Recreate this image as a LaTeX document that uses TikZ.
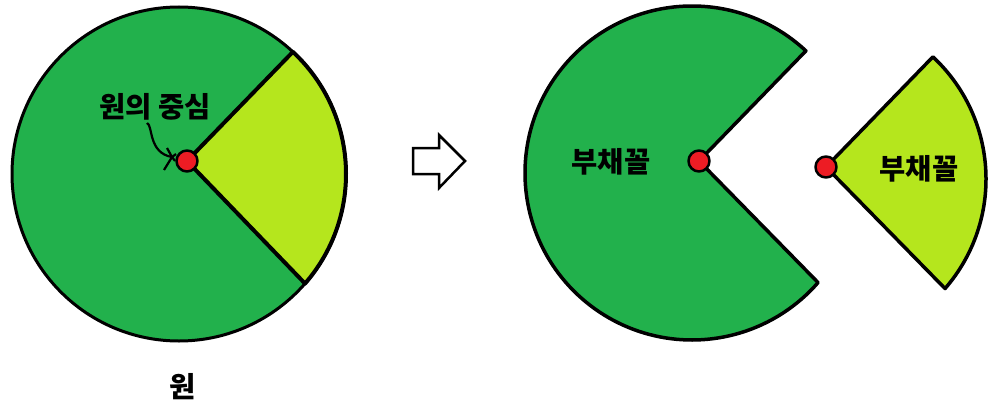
\documentclass[tikz,border=0pt]{standalone}
\usepackage{fontspec}
\newfontfamily\kr{Noto Sans CJK KR}
\definecolor{pgreen}{RGB}{34,177,76}
\definecolor{plime}{RGB}{181,230,29}
\definecolor{pred}{RGB}{237,28,36}

\begin{document}
\begin{tikzpicture}[x=1pt,y=1pt,line join=round,
		dot/.style={draw,circle,fill=pred,line width=2.5pt,minimum size=21pt,inner sep=0pt},
		lbl/.style={inner sep=0pt,font=\kr\bfseries\fontsize{28.5}{32}\selectfont}]
	\useasboundingbox (0,0) rectangle (1003,-417);

	% circle with one sector
	\draw[line width=3pt,fill=pgreen] (179,-174) circle[radius=167];
	\draw[line width=4pt,fill=plime] (187,-161) -- ([shift={(179,-174)}]47:167)
		arc[start angle=47,end angle=-41,radius=167] -- cycle;
	\node[dot] (c1) at (187,-161) {};
	\node[lbl] (center) at (155,-107) {원의 중심};
	\node[lbl] (circ) at (183,-387) {원};

	% pointer to the centre
	\coordinate (foot) at (147,-123);
	\coordinate (xm) at (172,-157);
	\draw[line width=2.2pt] (foot) .. controls (153,-125) and (148,-153) .. (xm);
	\draw[line width=2.2pt] (167,-148) -- (xm) -- (175,-161);
	\draw[line width=2.2pt] (164,-170) -- (xm) -- (176,-154);

	% arrow
	\draw[line width=2.5pt,line join=miter] (413,-148) -- (439,-148) -- (439,-135) -- (465,-161)
		-- (439,-188) -- (439,-174) -- (413,-174) -- cycle;

	% large sector
	\draw[line width=3.5pt,fill=pgreen] (699,-161) -- ([shift={(692,-173)}]47:167)
		arc[start angle=47,end angle=319,radius=167] -- cycle;
	\node[dot] (c2) at (699,-161) {};
	\node[lbl] (big) at (611,-162) {부채꼴};

	% small sector
	\draw[line width=3.5pt,fill=plime] (826,-167) -- ([shift={(819,-179)}]47:167)
		arc[start angle=47,end angle=-41,radius=167] -- cycle;
	\node[dot] (c3) at (826,-167) {};
	\node[lbl] (small) at (919,-169) {부채꼴};
\end{tikzpicture}
\end{document}
